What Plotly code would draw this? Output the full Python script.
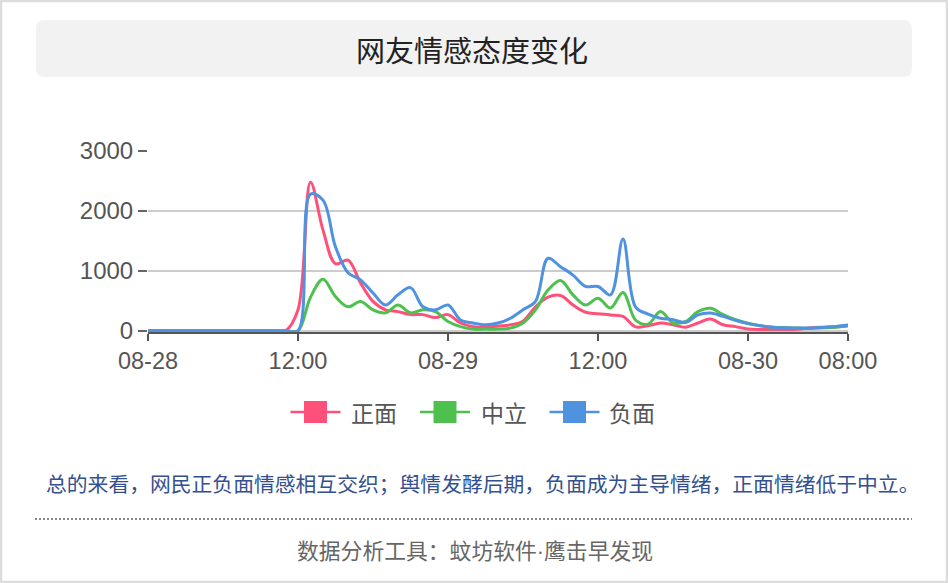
import plotly.graph_objects as go

# ---- data (hourly, 08-28 00:00 .. 08-30 08:00) ----
hours = list(range(57))
tick_hours = [0, 12, 24, 36, 48, 56]
tick_labels = ["08-28", "12:00", "08-29", "12:00", "08-30", "08:00"]

positive = [0]*11 + [0, 350, 2480, 1680, 1120, 1180, 800, 490, 350, 320, 270, 270, 220, 270,
            130, 70, 60, 80, 100, 160, 400, 560, 590, 430, 310, 285, 265, 240, 65, 85,
            130, 100, 60, 130, 195, 100, 70, 30, 22, 20, 20, 25, 50, 60, 65, 85]
neutral = [0]*12 + [0, 560, 860, 570, 400, 490, 350, 300, 430, 300, 350, 320, 155, 70, 30,
           28, 28, 45, 130, 350, 680, 840, 600, 430, 545, 380, 640, 180, 110, 320, 130,
           155, 320, 375, 270, 185, 125, 85, 60, 50, 45, 40, 50, 60, 85]
negative = [0]*12 + [0, 2280, 2180, 1400, 970, 850, 630, 430, 600, 720, 400, 350, 430, 180,
            130, 100, 130, 210, 350, 490, 1210, 1070, 930, 740, 740, 600, 1530, 400, 280,
            210, 185, 140, 265, 295, 240, 175, 120, 85, 60, 50, 47, 47, 55, 72, 95]

series_names = ["正面", "中立", "负面"]
series_colors = ["#FF507A", "#4EC04E", "#4E92E0"]
series_values = [positive, neutral, negative]

title_text = "网友情感态度变化"
summary_text = "总的来看，网民正负面情感相互交织；舆情发酵后期，负面成为主导情绪，正面情绪低于中立。"
footer_parts = ["数据分析工具：蚊坊软件", "·", "鹰击早发现"]

W, H = 948, 583
L, T, PW, PH = 148, 151, 700, 181


def PX(x):
    return (x - L) / PW


def PY(y):
    return (T + PH - y) / PH


fig = go.Figure()
for name, col, vals in zip(series_names, series_colors, series_values):
    fig.add_trace(go.Scatter(
        x=hours, y=vals, name=name, mode="lines",
        line=dict(color=col, width=3, shape="spline", smoothing=1),
        showlegend=False,
    ))

shapes = []
annotations = []

# outer border
shapes.append(dict(type="rect", xref="paper", yref="paper",
                   x0=PX(1), x1=PX(947), y0=PY(1), y1=PY(582),
                   line=dict(color="#DCDCDC", width=2.5), fillcolor="rgba(0,0,0,0)", layer="below"))

# title box (rounded rect)
x0, x1, y0, y1, r = 36, 912, 20, 77, 9


def P(x, y):
    return f"{PX(x)},{PY(y)}"


path = (f"M {P(x0 + r, y0)} L {P(x1 - r, y0)} Q {P(x1, y0)} {P(x1, y0 + r)} "
        f"L {P(x1, y1 - r)} Q {P(x1, y1)} {P(x1 - r, y1)} L {P(x0 + r, y1)} "
        f"Q {P(x0, y1)} {P(x0, y1 - r)} L {P(x0, y0 + r)} Q {P(x0, y0)} {P(x0 + r, y0)} Z")
shapes.append(dict(type="path", xref="paper", yref="paper", path=path,
                   fillcolor="#F2F2F2", line=dict(width=0), layer="below"))

annotations.append(dict(xref="paper", yref="paper", x=PX(472), y=PY(49), text=title_text,
                        showarrow=False, xanchor="center", yanchor="middle",
                        font=dict(family="Noto Sans CJK SC", size=29, color="#222222")))

# legend (manual)
legend_items = [(315.5, 349), (445, 479), (574.5, 607)]
for (cx, tx), name, col in zip(legend_items, series_names, series_colors):
    cy = 412
    shapes.append(dict(type="line", xref="paper", yref="paper",
                       x0=PX(cx - 25), x1=PX(cx + 25), y0=PY(cy), y1=PY(cy),
                       line=dict(color=col, width=2.5)))
    shapes.append(dict(type="rect", xref="paper", yref="paper",
                       x0=PX(cx - 11.5), x1=PX(cx + 11.5), y0=PY(cy - 11), y1=PY(cy + 11),
                       line=dict(width=0), fillcolor=col))
    annotations.append(dict(xref="paper", yref="paper", x=PX(tx), y=PY(cy), text=name,
                            showarrow=False, xanchor="left", yanchor="middle",
                            font=dict(family="Noto Sans CJK SC", size=23, color="#555555")))

# summary text
annotations.append(dict(xref="paper", yref="paper", x=PX(482), y=PY(483), text=summary_text,
                        showarrow=False, xanchor="center", yanchor="middle",
                        font=dict(family="Noto Sans CJK SC", size=20.8, color="#34508F")))

# dotted separator
shapes.append(dict(type="line", xref="paper", yref="paper",
                   x0=PX(35), x1=PX(912), y0=PY(519), y1=PY(519),
                   line=dict(color="#888888", width=2, dash="2px,2px")))

# footer
footer_html = (footer_parts[0]
               + "<span style='font-family:Liberation Sans'>" + footer_parts[1] + "</span>"
               + footer_parts[2])
annotations.append(dict(xref="paper", yref="paper", x=PX(474.5), y=PY(549), text=footer_html,
                        showarrow=False, xanchor="center", yanchor="middle",
                        font=dict(family="Noto Sans CJK SC", size=21.8, color="#666666")))

fig.update_layout(
    width=W, height=H,
    margin=dict(l=L, r=W - L - PW, t=T, b=H - T - PH, pad=0),
    paper_bgcolor="white", plot_bgcolor="white",
    shapes=shapes, annotations=annotations,
    showlegend=False,
    font=dict(family="Liberation Sans, Arial", color="#555555"),
)
fig.update_xaxes(
    range=[0, 56], tickvals=tick_hours, ticktext=tick_labels,
    showgrid=False, zeroline=False,
    showline=True, linecolor="#555555", linewidth=2,
    ticks="outside", ticklen=7, tickwidth=2, tickcolor="#555555",
    tickfont=dict(size=23.5, color="#555555"),
)
fig.update_yaxes(
    range=[-20, 3000], tickvals=[0, 1000, 2000, 3000],
    showgrid=True, gridcolor="#CCCCCC", gridwidth=1.5,
    zeroline=False, showline=False,
    ticks="outside", ticklen=9, tickwidth=1.5, tickcolor="#666666",
    tickfont=dict(size=24, color="#555555"),
)

fig.write_html("out.html",
               config={"displayModeBar": False},
               post_script="document.body.style.margin='0';document.body.style.overflow='hidden';")
